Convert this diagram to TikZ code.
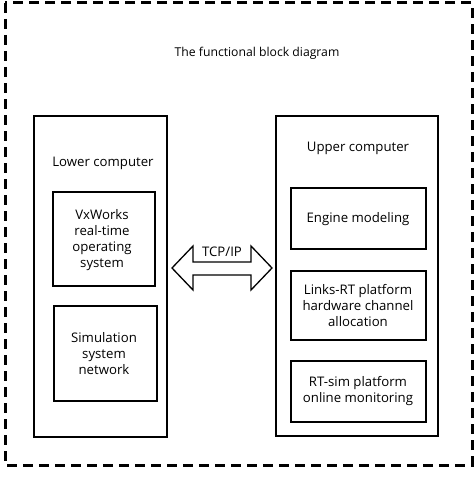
\documentclass[tikz,border=0pt]{standalone}
\usepackage{fontspec}
\setmainfont{Open Sans}
\begin{document}
\begin{tikzpicture}[x=1pt,y=-1pt,
  every node/.style={font=\fontsize{13.2}{16}\selectfont, text=black},
  outerbox/.style={draw, line width=2.2pt},
  innerbox/.style={draw, line width=1.3pt},
  lbl/.style={align=center, inner sep=0pt}]
\useasboundingbox (0,0) rectangle (474,487);
\draw[line width=3pt, dash pattern=on 10pt off 6pt] (5,3) rectangle (472,465);
\node[lbl, font=\fontsize{12.2}{16}\selectfont] (title) at (257,53) {The functional block diagram};
% lower computer
\draw[outerbox] (34,116) rectangle (167,437);
\node[lbl] (lower) at (103,163) {Lower computer};
\draw[innerbox] (53,192) rectangle (155,286);
\node[lbl] (vx) at (102,240) {VxWorks\\real-time\\operating\\system};
\draw[innerbox] (54,306) rectangle (157,401);
\node[lbl] (sim) at (104,354) {Simulation\\system\\network};
% upper computer
\draw[outerbox] (276,116) rectangle (438,436);
\node[lbl] (upper) at (358,148) {Upper computer};
\draw[innerbox] (291,188) rectangle (426,249);
\node[lbl] (eng) at (358,219) {Engine modeling};
\draw[innerbox] (291,271) rectangle (426,340);
\node[lbl] (links) at (358,306) {Links-RT platform\\hardware channel\\allocation};
\draw[innerbox] (291,361) rectangle (426,422);
\node[lbl] (rts) at (358,391) {RT-sim platform\\online monitoring};
% link arrow
\draw[line width=1.3pt, line join=miter] (172,268) -- (193,246) -- (193,262) -- (251,262) -- (251,246)
  -- (272,268) -- (251,290) -- (251,275) -- (193,275) -- (193,290) -- cycle;
\node[lbl, fill=white, inner sep=0.5pt] (tcp) at (222,252) {TCP/IP};
\end{tikzpicture}
\end{document}
